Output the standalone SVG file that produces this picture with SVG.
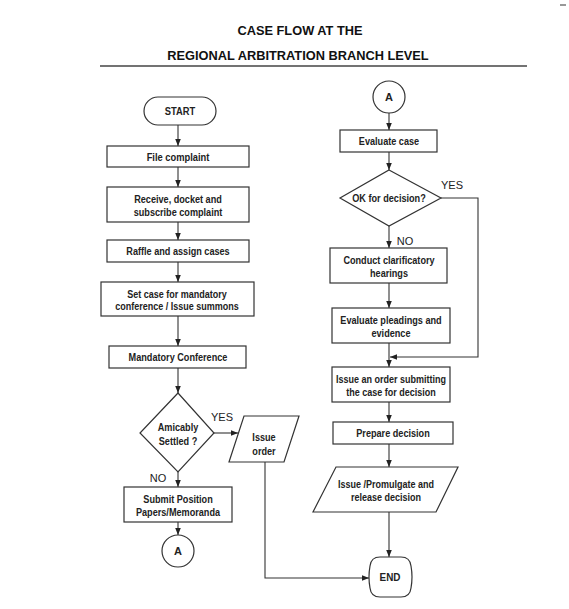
<svg xmlns="http://www.w3.org/2000/svg" width="569" height="609" viewBox="0 0 569 609">
<defs>
<marker id="ah" viewBox="0 0 10 10" refX="10" refY="5" markerWidth="7" markerHeight="7" orient="auto" markerUnits="userSpaceOnUse">
<path d="M0,1 L10,5 L0,9 z" fill="#222"/>
</marker>
<style>
.bx{fill:#fff;stroke:#333;stroke-width:1.2}
.t{font-family:"Liberation Sans",Arial,sans-serif;font-weight:bold;font-size:11px;fill:#222;text-anchor:middle}
.lb{font-family:"Liberation Sans",Arial,sans-serif;font-size:11px;fill:#222;text-anchor:middle}
.ttl{font-family:"Liberation Sans",Arial,sans-serif;font-weight:bold;font-size:12.8px;fill:#111;text-anchor:middle}
.c{fill:none;stroke:#333;stroke-width:1.1}
.ca{fill:none;stroke:#333;stroke-width:1.1;marker-end:url(#ah)}
</style>
</defs>
<rect width="569" height="609" fill="#fff"/>
<line x1="560" y1="5" x2="566" y2="5" stroke="#333" stroke-width="1"/>
<g id="title">
<text class="ttl" x="300" y="35">CASE FLOW AT THE</text>
<text class="ttl" x="298" y="60">REGIONAL ARBITRATION BRANCH LEVEL</text>
<line x1="100" y1="66" x2="527" y2="66" stroke="#444" stroke-width="1.3"/>
</g>
<g id="connectors">
<line class="ca" x1="178" y1="125" x2="178" y2="146"/>
<line class="ca" x1="178" y1="167" x2="178" y2="187"/>
<line class="ca" x1="178" y1="222" x2="178" y2="240"/>
<line class="ca" x1="178" y1="262" x2="178" y2="282"/>
<line class="ca" x1="178" y1="316" x2="178" y2="346"/>
<line class="ca" x1="178" y1="368" x2="178" y2="393"/>
<line class="ca" x1="214" y1="433" x2="238" y2="433"/>
<line class="ca" x1="178" y1="472" x2="178" y2="487"/>
<line class="ca" x1="178" y1="522" x2="178" y2="535"/>
<polyline class="ca" points="265,462 265,578 369,578"/>
<line class="ca" x1="389" y1="113" x2="389" y2="130"/>
<line class="ca" x1="389" y1="152" x2="389" y2="170"/>
<polyline class="ca" points="441,198 478,198 478,357 390,357"/>
<line class="ca" x1="389" y1="226" x2="389" y2="248"/>
<line class="ca" x1="389" y1="283" x2="389" y2="308"/>
<line class="ca" x1="389" y1="343" x2="389" y2="367"/>
<line class="ca" x1="389" y1="402" x2="389" y2="422"/>
<line class="ca" x1="389" y1="444" x2="389" y2="467"/>
<line class="ca" x1="389" y1="512" x2="389" y2="557"/>
<text class="lb" x="222" y="421">YES</text>
<text class="lb" x="158" y="482">NO</text>
<text class="lb" x="452" y="189">YES</text>
<text class="lb" x="405" y="245">NO</text>
</g>
<g id="start">
<rect class="bx" x="144" y="97" width="72" height="28" rx="14"/>
<text class="t" transform="translate(180,115) scale(0.85,1)">START</text>
</g>
<g id="file">
<rect class="bx" x="107" y="146" width="142" height="21"/>
<text class="t" transform="translate(178,160.5) scale(0.85,1)">File complaint</text>
</g>
<g id="receive">
<rect class="bx" x="107" y="187" width="142" height="35"/>
<text class="t" transform="translate(178,203) scale(0.83,1)">Receive, docket  and</text>
<text class="t" transform="translate(178,215.5) scale(0.83,1)">subscribe complaint</text>
</g>
<g id="raffle">
<rect class="bx" x="107" y="240" width="142" height="22"/>
<text class="t" transform="translate(178,255) scale(0.83,1)">Raffle and assign cases</text>
</g>
<g id="setcase">
<rect class="bx" x="101" y="282" width="153" height="34"/>
<text class="t" transform="translate(177,297.5) scale(0.82,1)">Set case for mandatory</text>
<text class="t" transform="translate(177,310) scale(0.82,1)">conference / Issue summons</text>
</g>
<g id="mandatory">
<rect class="bx" x="109" y="346" width="137" height="22"/>
<text class="t" transform="translate(178,361) scale(0.83,1)">Mandatory Conference</text>
</g>
<g id="amicably">
<polygon class="bx" points="178,393 214,433 178,472 140,433"/>
<text class="t" transform="translate(178,431) scale(0.83,1)">Amicably</text>
<text class="t" transform="translate(178,445) scale(0.83,1)">Settled ?</text>
</g>
<g id="issueorder">
<polygon class="bx" points="244,416 299,416 284,462 229,462"/>
<text class="t" transform="translate(264,441) scale(0.83,1)">Issue</text>
<text class="t" transform="translate(264,455) scale(0.83,1)">order</text>
</g>
<g id="submit">
<rect class="bx" x="124" y="487" width="108" height="35"/>
<text class="t" transform="translate(178,503) scale(0.83,1)">Submit  Position</text>
<text class="t" transform="translate(178,515.5) scale(0.83,1)">Papers/Memoranda</text>
</g>
<g id="connA1">
<circle class="bx" cx="178" cy="551" r="16"/>
<text class="t" x="178" y="555">A</text>
</g>
<g id="connA2">
<circle class="bx" cx="389" cy="97" r="16"/>
<text class="t" x="389" y="101">A</text>
</g>
<g id="evaluate">
<rect class="bx" x="340" y="130" width="97" height="22"/>
<text class="t" transform="translate(389,145) scale(0.83,1)">Evaluate case</text>
</g>
<g id="okdecision">
<polygon class="bx" points="389,170 441,198 389,226 340,198"/>
<text class="t" transform="translate(389,202) scale(0.83,1)">OK for decision?</text>
</g>
<g id="conduct">
<rect class="bx" x="330" y="248" width="117" height="35"/>
<text class="t" transform="translate(389,264) scale(0.83,1)">Conduct clarificatory</text>
<text class="t" transform="translate(389,276.5) scale(0.83,1)">hearings</text>
</g>
<g id="pleadings">
<rect class="bx" x="332" y="308" width="118" height="35"/>
<text class="t" transform="translate(391,324) scale(0.83,1)">Evaluate pleadings and</text>
<text class="t" transform="translate(391,336.5) scale(0.83,1)">evidence</text>
</g>
<g id="issueorder2">
<rect class="bx" x="332" y="367" width="118" height="35"/>
<text class="t" transform="translate(391,383) scale(0.82,1)">Issue an order submitting</text>
<text class="t" transform="translate(391,395.5) scale(0.82,1)">the case for decision</text>
</g>
<g id="prepare">
<rect class="bx" x="333" y="422" width="120" height="22"/>
<text class="t" transform="translate(393,437) scale(0.83,1)">Prepare decision</text>
</g>
<g id="promulgate">
<polygon class="bx" points="336,467 458,467 436,512 313,512"/>
<text class="t" transform="translate(386,488) scale(0.82,1)">Issue /Promulgate and</text>
<text class="t" transform="translate(386,500.5) scale(0.82,1)">release decision</text>
</g>
<g id="end">
<path class="bx" d="M380,557 L401,557 Q410,557 411,566 Q413,577 411,588 Q410,597 401,597 L380,597 Q371,597 370,588 Q368,577 370,566 Q371,557 380,557 z"/>
<text class="t" transform="translate(390,581) scale(0.9,1)">END</text>
</g>
</svg>
